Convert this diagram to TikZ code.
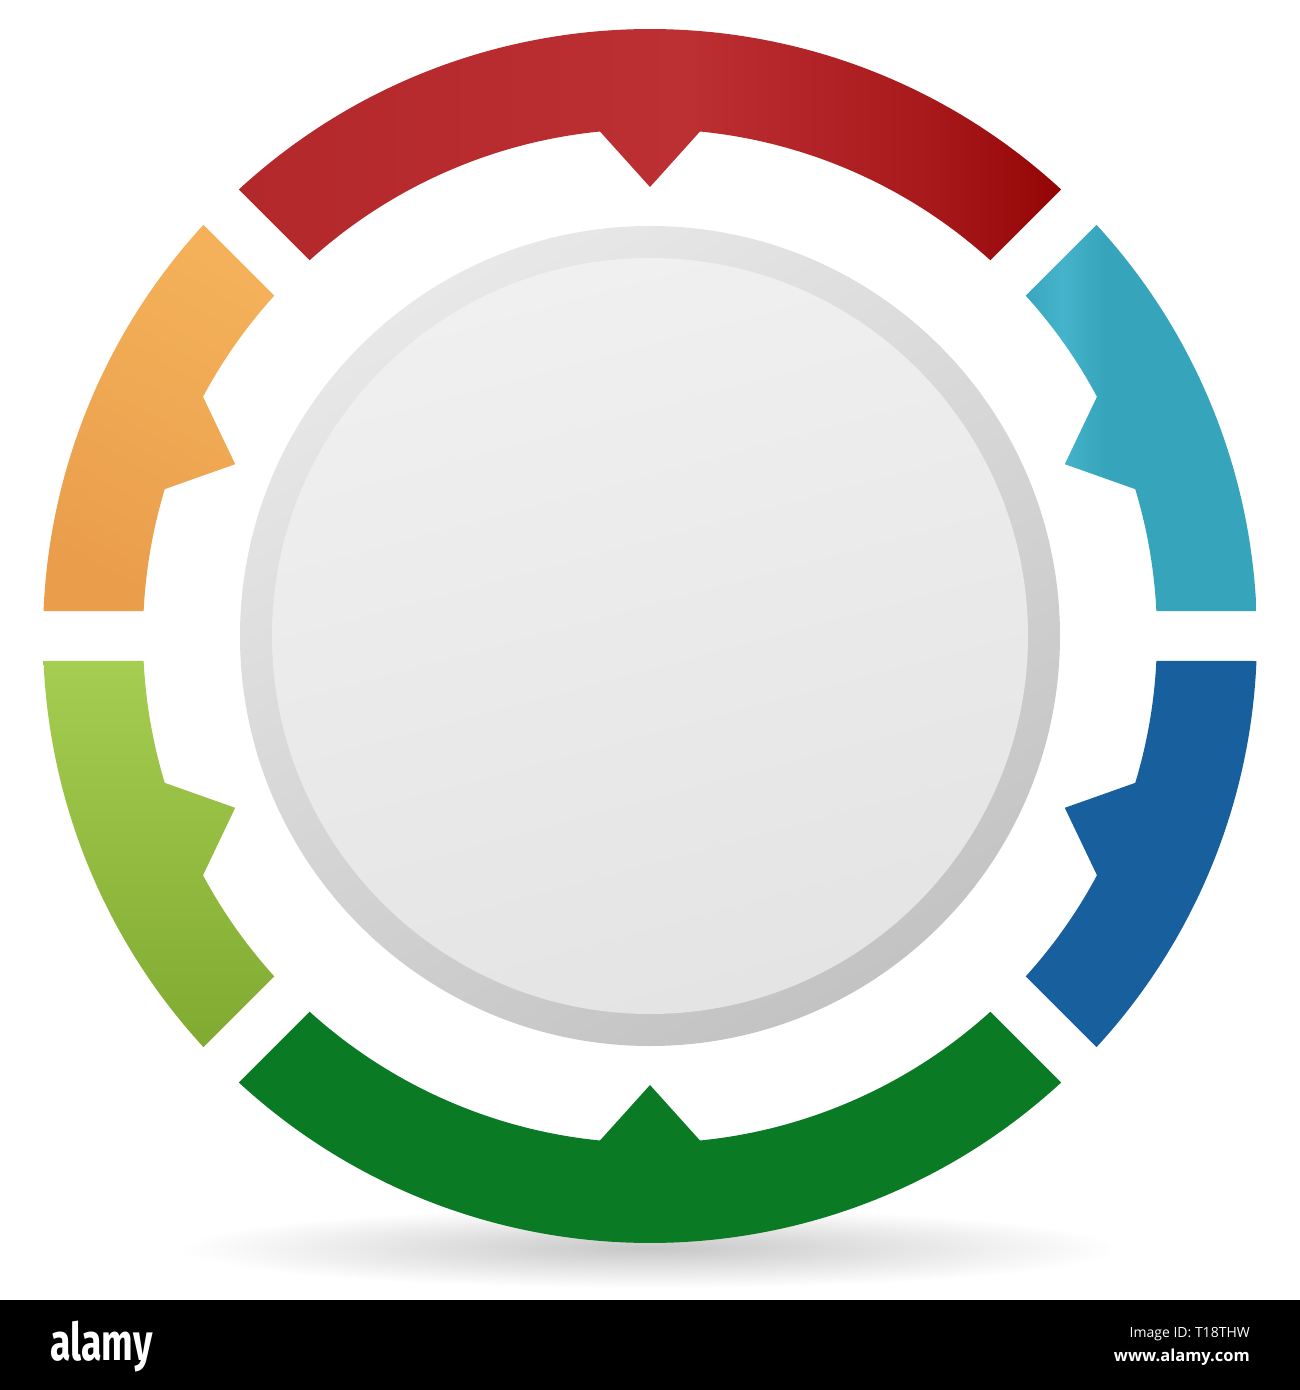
\documentclass[tikz,border=0pt]{standalone}
\usepackage{fontspec}
\usepackage{graphicx}
\newfontfamily\barfont{Open Sans}
\newfontfamily\logofont{Fira Sans}
\definecolor{redA}{HTML}{B3282B}
\definecolor{redB}{HTML}{BC2F32}
\definecolor{redC}{HTML}{A8191C}
\definecolor{redD}{HTML}{930505}
\definecolor{cyanA}{HTML}{38A6BC}
\definecolor{cyanB}{HTML}{45B3CB}
\definecolor{cyanC}{HTML}{36A4BA}
\definecolor{orangeT}{HTML}{F4B159}
\definecolor{orangeB}{HTML}{EA9E4C}
\definecolor{limeT}{HTML}{A5CD51}
\definecolor{limeB}{HTML}{80AA30}
\definecolor{darkgreen}{HTML}{0A7A24}
\definecolor{blueseg}{HTML}{175F9D}
\definecolor{rimT}{HTML}{E8E8E8}
\definecolor{rimM}{HTML}{E2E2E2}
\definecolor{rimB}{HTML}{C3C3C3}
\definecolor{discT}{HTML}{F0F0F0}
\definecolor{discB}{HTML}{E4E4E4}
\pgfdeclarehorizontalshading{redshade}{100bp}{color(0bp)=(redA); color(25bp)=(redA); color(52bp)=(redB); color(67bp)=(redC); color(75bp)=(redD); color(100bp)=(redD)}
\pgfdeclarehorizontalshading{cyanshade}{100bp}{color(0bp)=(cyanA); color(25bp)=(cyanA); color(33bp)=(cyanB); color(42bp)=(cyanC); color(100bp)=(cyanC)}
% ring segment between gap angles #1 and #2
\newcommand\ringseg[3]{%
  \pgfmathsetmacro\ga{#1}\pgfmathsetmacro\gb{#2}%
  \pgfmathsetmacro\gm{(#1+#2)/2}%
  \path[#3] (\ga+2.361:607) arc[start angle=\ga+2.361, end angle=\gb-2.361, radius=607]
    -- (\gb-2.826:507) arc[start angle=\gb-2.826, end angle=\gm+5.66, radius=507]
    -- (\gm:449)
    -- (\gm-5.66:507) arc[start angle=\gm-5.66, end angle=\ga+2.826, radius=507]
    -- cycle;}
\begin{document}
\begin{tikzpicture}[x=1pt,y=1pt,
  bartext/.style={text=white, inner sep=0pt}]
\useasboundingbox (-650,-754) rectangle (650,636);
\fill[white] (-650,-754) rectangle (650,636);
% soft shadow under the ring
\shade[inner color=black!22, outer color=white] (0,-612) ellipse [x radius=470, y radius=40];
% ring segments
\ringseg{45}{135}{shade, shading=redshade}
\ringseg{0}{45}{shade, shading=cyanshade}
\ringseg{135}{180}{shade, top color=orangeT, bottom color=orangeB, shading angle=-30}
\ringseg{180}{225}{shade, top color=limeT, bottom color=limeB}
\ringseg{225}{315}{fill=darkgreen}
\ringseg{315}{360}{fill=blueseg}
% centre disc
\shade[top color=rimT, middle color=rimM, bottom color=rimB, shading angle=30] (0,0) circle[radius=410];
\shade[top color=discT, bottom color=discB, shading angle=15] (0,0) circle[radius=378];
% bottom bar
\fill[black] (-650,-664) rectangle (650,-754);
\node[bartext, anchor=base west] (logo) at (-600,-724)
  {\scalebox{0.72}[1]{\logofont\bfseries\fontsize{52}{52}\selectfont alamy}};
\node[bartext, anchor=base east] (imgid) at (600,-701)
  {\barfont\fontsize{14}{14}\selectfont Image ID: T18THW};
\node[bartext, anchor=base east] (url) at (600,-725)
  {\barfont\bfseries\fontsize{16.5}{16.5}\selectfont www.alamy.com};
\end{tikzpicture}
\end{document}
